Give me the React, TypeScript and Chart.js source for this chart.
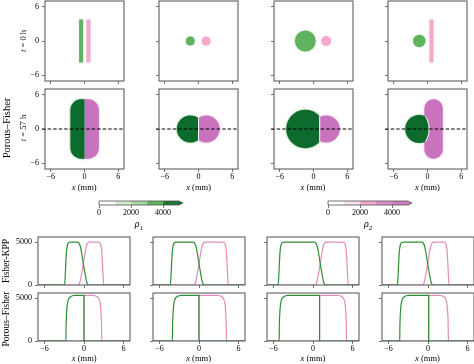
import React, { useEffect, useRef } from 'react';
import { Chart, registerables } from 'chart.js';

Chart.register(...registerables);

const SERIF = "'Liberation Serif', 'Times New Roman', Times, serif";

// ---------------- data ----------------
const scenarios = ['two strips', 'two small discs', 'large and small disc', 'disc and strip'];
const spaceTicks = [-6, 0, 6];
const spaceMin = -7;
const spaceMax = 7;
const densityTicks = [0, 5000];
const densityMax = 5586;
const colorbarTicks = [0, 2000, 4000];
const levelEdges = [0, 1000, 2000, 3000, 4000, 5000];

// t = 0 h initial populations (mm)
const initialGreen = [
  { kind: 'rect', x0: -0.95, x1: -0.25, y0: -3.75, y1: 3.75 },
  { kind: 'circle', cx: -1.45, cy: 0, r: 0.8 },
  { kind: 'circle', cx: -1.45, cy: 0, r: 1.85 },
  { kind: 'circle', cx: -1.45, cy: 0, r: 1.1 },
];
const initialPink = [
  { kind: 'rect', x0: 0.35, x1: 1.05, y0: -3.75, y1: 3.75 },
  { kind: 'circle', cx: 1.35, cy: 0, r: 0.8 },
  { kind: 'circle', cx: 2.25, cy: 0, r: 0.87 },
  { kind: 'rect', x0: 0.35, x1: 1.05, y0: -3.75, y1: 3.75 },
];
// t = 57 h Porous-Fisher populations (mm)
const finalGreen = [
  { kind: 'rrect', x0: -2.5, x1: 2.55, y0: -5.2, y1: 5.2, r: 1.9 },
  { kind: 'circle', cx: -1.45, cy: 0, r: 2.4 },
  { kind: 'circle', cx: -1.45, cy: 0, r: 3.4 },
  { kind: 'circle', cx: -1.45, cy: 0, r: 2.5 },
];
const finalPink = [
  { kind: 'rrect', x0: -2.5, x1: 2.55, y0: -5.2, y1: 5.2, r: 1.9 },
  { kind: 'circle', cx: 1.35, cy: 0, r: 2.4 },
  { kind: 'circle', cx: 2.25, cy: 0, r: 2.4 },
  { kind: 'rrect', x0: -0.55, x1: 2.7, y0: -5.2, y1: 5.2, r: 1.6 },
];
const finalInterface = [0, 0, 1.1, null];
const finalGreenFront = [null, null, null, { kind: 'circle', cx: -3.9, cy: 0, r: 4.2 }];
const finalInterfaceVisible = [false, true, true, true];

// 1D profiles along y = 0 (x in mm, density)
const kppGreenY = [0, 0, 1200, 2800, 4000, 4700, 4950, 5000, 5000, 4900, 4600, 3900, 3200, 2500, 1800, 1150, 550, 150, 0, 0];
const kppPinkY = [0, 0, 150, 550, 1150, 1800, 2500, 3200, 3900, 4600, 4900, 5000, 5000, 4950, 4700, 4000, 2800, 1200, 0, 0];
const kppGreenX = [
  [-7, -2.95, -2.85, -2.75, -2.65, -2.5, -2.3, -2.05, -1.0, -0.8, -0.6, -0.4, -0.25, -0.1, 0.05, 0.2, 0.35, 0.5, 0.65, 7],
  [-7, -4.35, -4.25, -4.15, -4.05, -3.9, -3.7, -3.45, -0.9, -0.7, -0.5, -0.3, -0.15, 0, 0.15, 0.3, 0.45, 0.6, 0.75, 7],
  [-7, -5.3, -5.2, -5.1, -5.0, -4.85, -4.65, -4.4, 0.2, 0.4, 0.6, 0.8, 0.95, 1.1, 1.25, 1.4, 1.55, 1.7, 1.85, 7],
  [-7, -4.65, -4.55, -4.45, -4.35, -4.2, -4.0, -3.75, -0.95, -0.75, -0.55, -0.35, -0.2, -0.05, 0.1, 0.25, 0.4, 0.55, 0.7, 7],
];
const kppPinkX = [
  [-7, -0.85, -0.7, -0.55, -0.4, -0.25, -0.1, 0.05, 0.2, 0.4, 0.6, 0.8, 2.1, 2.35, 2.55, 2.7, 2.8, 2.9, 3.0, 7],
  [-7, -0.75, -0.6, -0.45, -0.3, -0.15, 0, 0.15, 0.3, 0.5, 0.7, 0.9, 3.55, 3.8, 4.0, 4.15, 4.25, 4.35, 4.45, 7],
  [-7, 0.35, 0.5, 0.65, 0.8, 0.95, 1.1, 1.25, 1.4, 1.6, 1.8, 2.0, 4.45, 4.7, 4.9, 5.05, 5.15, 5.25, 5.35, 7],
  [-7, -0.8, -0.65, -0.5, -0.35, -0.2, -0.05, 0.1, 0.25, 0.45, 0.65, 0.85, 2.3, 2.55, 2.75, 2.9, 3.0, 3.1, 3.2, 7],
];
const pfGreenY = [0, 0, 1500, 3000, 4200, 4850, 5150, 5270, 5320, 5320, 0, 0];
const pfPinkY = [0, 0, 5320, 5320, 5270, 5150, 4850, 4200, 3000, 1500, 0, 0];
const pfGreenX = [
  [-7, -2.75, -2.73, -2.67, -2.55, -2.35, -2.05, -1.75, -1.35, 0, 0, 7],
  [-7, -4.05, -4.03, -3.97, -3.85, -3.65, -3.35, -3.05, -2.65, 0, 0, 7],
  [-7, -5.15, -5.13, -5.07, -4.95, -4.75, -4.45, -4.15, -3.75, 1.0, 1.0, 7],
  [-7, -4.3, -4.28, -4.22, -4.1, -3.9, -3.6, -3.3, -2.9, 0.1, 0.1, 7],
];
const pfPinkX = [
  [-7, 0, 0, 1.3, 1.7, 2.0, 2.3, 2.5, 2.62, 2.68, 2.7, 7],
  [-7, 0, 0, 2.77, 3.17, 3.47, 3.77, 3.97, 4.09, 4.15, 4.17, 7],
  [-7, 1.0, 1.0, 3.7, 4.1, 4.4, 4.7, 4.9, 5.02, 5.08, 5.1, 7],
  [-7, 0.1, 0.1, 1.7, 2.1, 2.4, 2.7, 2.9, 3.02, 3.08, 3.1, 7],
];

// ---------------- styles ----------------
const GREEN_LEVELS = ['#ffffff', '#d4ecce', '#a4d89d', '#5fb35f', '#1c7a36'];
const GREEN_EXT = '#0d6b2d';
const PINK_LEVELS = ['#ffffff', '#fbe1ee', '#f3a9cc', '#de8ec8', '#cf7cc2'];
const PINK_EXT = '#c973be';
const GREEN0 = '#5fb35f';
const PINK0 = '#f3a9cc';
const GREEN57 = '#0d6b2d';
const PINK57 = '#c973be';
const LINE_GREEN = '#2f8f36';
const LINE_PINK = '#e48cbb';
const SPINE = '#505050';

const colCenters = [84.2, 198.6, 313, 427.5];
const P2 = { w: 79, h: 79.5, rows: [0.5, 88.8] };
const P1 = { w: 92, h: 47.5, rows: [236.8, 292.8] };
const PAD = { l: 36, r: 8, t: 8, b: 16 };

const minus = (v: number) => (v < 0 ? '\u2212' + Math.abs(v) : String(v));

function tracePath(ctx: CanvasRenderingContext2D, s: any, xs: any, ys: any) {
  ctx.beginPath();
  if (s.kind === 'circle') {
    const px = xs.getPixelForValue(s.cx);
    const py = ys.getPixelForValue(s.cy);
    const pr = Math.abs(xs.getPixelForValue(s.cx + s.r) - px);
    ctx.arc(px, py, pr, 0, Math.PI * 2);
  } else {
    const l = xs.getPixelForValue(s.x0);
    const r = xs.getPixelForValue(s.x1);
    const t = ys.getPixelForValue(s.y1);
    const b = ys.getPixelForValue(s.y0);
    const rad = s.r ? Math.abs(xs.getPixelForValue(s.r) - xs.getPixelForValue(0)) : 0;
    if (rad > 0 && (ctx as any).roundRect) (ctx as any).roundRect(l, t, r - l, b - t, rad);
    else ctx.rect(l, t, r - l, b - t);
  }
}

function fieldPlugin(layers: any[]) {
  return {
    id: 'field',
    beforeDatasetsDraw(chart: any) {
      const { ctx, chartArea: a, scales } = chart;
      const xs = scales.x;
      const ys = scales.y;
      ctx.save();
      ctx.beginPath();
      ctx.rect(a.left, a.top, a.right - a.left, a.bottom - a.top);
      ctx.clip();
      for (const L of layers) {
        ctx.save();
        if (L.min != null || L.max != null) {
          const l = L.min != null ? xs.getPixelForValue(L.min) : a.left;
          const r = L.max != null ? xs.getPixelForValue(L.max) : a.right;
          ctx.beginPath();
          ctx.rect(l, a.top, r - l, a.bottom - a.top);
          ctx.clip();
        }
        if (L.cut) {
          tracePath(ctx, L.cut, xs, ys);
          ctx.clip();
        }
        tracePath(ctx, L.shape, xs, ys);
        ctx.shadowColor = L.halo;
        ctx.shadowBlur = L.blur;
        ctx.fillStyle = L.fill;
        ctx.fill();
        ctx.restore();
        if (L.edge) {
          ctx.save();
          tracePath(ctx, L.shape, xs, ys);
          ctx.clip();
          ctx.strokeStyle = '#ffffff';
          ctx.lineWidth = 1;
          if (L.cut) {
            tracePath(ctx, L.cut, xs, ys);
            ctx.stroke();
          } else if (L.max != null) {
            const px = xs.getPixelForValue(L.max);
            ctx.beginPath();
            ctx.moveTo(px, a.top);
            ctx.lineTo(px, a.bottom);
            ctx.stroke();
          }
          ctx.restore();
        }
      }
      ctx.restore();
    },
  };
}

const framePlugin = {
  id: 'frame',
  afterDraw(chart: any) {
    const { ctx, chartArea: a } = chart;
    ctx.save();
    ctx.strokeStyle = SPINE;
    ctx.lineWidth = 1;
    ctx.strokeRect(a.left, a.top, a.right - a.left, a.bottom - a.top);
    ctx.restore();
  },
};

function colorbarPlugin(ext: string) {
  return {
    id: 'cbar',
    afterDraw(chart: any) {
      const { ctx, chartArea: a } = chart;
      const tip = a.right + (a.right - a.left) * 0.05;
      const mid = (a.top + a.bottom) / 2;
      ctx.save();
      ctx.fillStyle = ext;
      ctx.beginPath();
      ctx.moveTo(a.right - 0.5, a.top);
      ctx.lineTo(tip, mid);
      ctx.lineTo(a.right - 0.5, a.bottom);
      ctx.closePath();
      ctx.fill();
      ctx.strokeStyle = SPINE;
      ctx.lineWidth = 0.8;
      ctx.beginPath();
      ctx.moveTo(a.left, a.top);
      ctx.lineTo(a.right, a.top);
      ctx.lineTo(tip, mid);
      ctx.lineTo(a.right, a.bottom);
      ctx.lineTo(a.left, a.bottom);
      ctx.closePath();
      ctx.stroke();
      ctx.restore();
    },
  };
}

function axis(opts: { min: number; max: number; ticks: number[]; labels: boolean; size: number; horizontal: boolean; padding: number }) {
  return {
    type: 'linear',
    min: opts.min,
    max: opts.max,
    afterBuildTicks: (s: any) => {
      s.ticks = opts.ticks.map((v) => ({ value: v }));
    },
    afterFit: (s: any) => {
      if (opts.horizontal) s.height = opts.size;
      else s.width = opts.size;
    },
    grid: { display: true, drawOnChartArea: false, drawTicks: true, tickLength: 3, tickWidth: 0.8, tickColor: SPINE },
    border: { display: false },
    ticks: {
      display: opts.labels,
      autoSkip: false,
      maxRotation: 0,
      padding: opts.padding,
      color: '#000',
      font: { family: SERIF, size: 8, lineHeight: 1 },
      callback: (v: any) => minus(Number(v)),
    },
  };
}

const baseOptions = {
  animation: false,
  responsive: false,
  devicePixelRatio: 1,
  events: [],
  plugins: { legend: { display: false }, tooltip: { enabled: false } },
};

function spatialConfig(col: number, row: number) {
  const final = row === 1;
  const layers = final
    ? [
        { shape: finalPink[col], min: finalInterface[col], fill: PINK57, halo: '#e6b0dc', blur: 2.5 },
        {
          shape: finalGreen[col],
          max: finalInterface[col],
          cut: finalGreenFront[col],
          edge: finalInterfaceVisible[col],
          fill: GREEN57,
          halo: '#7cc27a',
          blur: 2.5,
        },
      ]
    : [
        { shape: initialPink[col], fill: PINK0, halo: '#f8d3e5', blur: 1.5 },
        { shape: initialGreen[col], fill: GREEN0, halo: '#b5dcae', blur: 1.5 },
      ];
  return {
    type: 'scatter',
    data: {
      datasets: final
        ? [
            {
              data: [
                { x: -7.5, y: 0 },
                { x: 7, y: 0 },
              ],
              showLine: true,
              borderColor: '#000',
              borderWidth: 1,
              borderDash: [3.5, 2],
              pointRadius: 0,
              clip: false,
            },
          ]
        : [],
    },
    options: {
      ...baseOptions,
      layout: { padding: { left: 0, right: PAD.r, top: PAD.t, bottom: 0 } },
      scales: {
        x: axis({ min: spaceMin, max: spaceMax, ticks: spaceTicks, labels: final, size: PAD.b, horizontal: true, padding: 0.5 }),
        y: axis({ min: spaceMin, max: spaceMax, ticks: spaceTicks, labels: col === 0, size: PAD.l, horizontal: false, padding: 3 }),
      },
    },
    plugins: [fieldPlugin(layers), framePlugin],
  };
}

function pts(xs: number[], ys: number[]) {
  return xs.map((x, i) => ({ x, y: ys[i] }));
}

function profileConfig(col: number, row: number) {
  const kpp = row === 0;
  const g = kpp ? pts(kppGreenX[col], kppGreenY) : pts(pfGreenX[col], pfGreenY);
  const p = kpp ? pts(kppPinkX[col], kppPinkY) : pts(pfPinkX[col], pfPinkY);
  const line = { pointRadius: 0, borderWidth: 1.2, cubicInterpolationMode: 'monotone', fill: false };
  return {
    type: 'line',
    data: {
      datasets: [
        { ...line, label: 'ρ1', data: g, borderColor: LINE_GREEN },
        { ...line, label: 'ρ2', data: p, borderColor: LINE_PINK },
      ],
    },
    options: {
      ...baseOptions,
      layout: { padding: { left: 0, right: PAD.r, top: PAD.t, bottom: 0 } },
      scales: {
        x: axis({ min: spaceMin, max: spaceMax, ticks: spaceTicks, labels: !kpp, size: PAD.b, horizontal: true, padding: 0.5 }),
        y: axis({ min: 0, max: densityMax, ticks: densityTicks, labels: col === 0, size: PAD.l, horizontal: false, padding: 3 }),
      },
    },
    plugins: [framePlugin],
  };
}

const CB = { l: 12, r: 12, t: 4, b: 16, w: 79.5, h: 4.3, top: 200.6 };

function colorbarConfig(levels: string[], ext: string) {
  return {
    type: 'bar',
    data: {
      labels: [''],
      datasets: levels.map((c, i) => ({
        data: [[levelEdges[i], levelEdges[i + 1]]],
        backgroundColor: c,
        borderWidth: 0,
        barPercentage: 1,
        categoryPercentage: 1,
        grouped: false,
      })),
    },
    options: {
      ...baseOptions,
      indexAxis: 'y',
      layout: { padding: { left: CB.l, right: CB.r, top: CB.t, bottom: 0 } },
      scales: {
        x: axis({ min: 0, max: 5000, ticks: colorbarTicks, labels: true, size: CB.b, horizontal: true, padding: 1 }),
        y: { display: false },
      },
    },
    plugins: [colorbarPlugin(ext)],
  };
}

function ChartBox({ left, top, width, height, config }: any) {
  const ref = useRef<HTMLCanvasElement>(null);
  useEffect(() => {
    const chart = new Chart(ref.current as HTMLCanvasElement, config);
    return () => chart.destroy();
  }, []);
  return (
    <canvas
      ref={ref}
      width={Math.round(width)}
      height={Math.round(height)}
      style={{ position: 'absolute', left, top, width: Math.round(width), height: Math.round(height) }}
    />
  );
}

function Label({ x, y, size = 8.5, rotate = false, children }: any) {
  return (
    <div
      style={{
        position: 'absolute',
        left: x,
        top: y,
        transform: `translate(-50%, -50%)${rotate ? ' rotate(-90deg)' : ''}`,
        fontFamily: SERIF,
        fontSize: size,
        lineHeight: 1,
        whiteSpace: 'nowrap',
        color: '#000',
      }}
    >
      {children}
    </div>
  );
}

export default function App() {
  const boxes: any[] = [];
  scenarios.forEach((_, col) => {
    const cx = colCenters[col];
    [0, 1].forEach((row) => {
      const left = cx - P2.w / 2 - PAD.l;
      const top = P2.rows[row] - PAD.t;
      boxes.push({ key: `s${col}${row}`, left, top, width: P2.w + PAD.l + PAD.r, height: P2.h + PAD.t + PAD.b, config: spatialConfig(col, row) });
      const left1 = cx - P1.w / 2 - PAD.l;
      const top1 = P1.rows[row] - PAD.t;
      boxes.push({ key: `p${col}${row}`, left: left1, top: top1, width: P1.w + PAD.l + PAD.r, height: P1.h + PAD.t + PAD.b, config: profileConfig(col, row) });
    });
  });
  const cbars = [
    { key: 'cb1', left: 99.3, levels: GREEN_LEVELS, ext: GREEN_EXT },
    { key: 'cb2', left: 328.4, levels: PINK_LEVELS, ext: PINK_EXT },
  ];
  return (
    <div style={{ position: 'absolute', left: 0, top: 0, width: 474, height: 364, overflow: 'hidden', background: '#fff' }}>
      {boxes.map((b) => (
        <ChartBox key={b.key} left={b.left} top={b.top} width={b.width} height={b.height} config={b.config} />
      ))}
      {cbars.map((c) => (
        <ChartBox
          key={c.key}
          left={c.left - CB.l}
          top={CB.top - CB.t}
          width={CB.w + CB.l + CB.r}
          height={CB.h + CB.t + CB.b}
          config={colorbarConfig(c.levels, c.ext)}
        />
      ))}
      <Label x={22.5} y={40.5} rotate>
        <i>t</i> = 0 h
      </Label>
      <Label x={22.5} y={128.3} rotate>
        <i>t</i> = 57 h
      </Label>
      <Label x={7} y={128.3} size={10.5} rotate>
        Porous–Fisher
      </Label>
      <Label x={7} y={260.5} size={9.5} rotate>
        Fisher-KPP
      </Label>
      <Label x={7} y={318.5} size={9.5} rotate>
        Porous–Fisher
      </Label>
      {colCenters.map((cx, i) => (
        <Label key={`xa${i}`} x={cx} y={186.5}>
          <i>x</i> (mm)
        </Label>
      ))}
      {colCenters.map((cx, i) => (
        <Label key={`xb${i}`} x={cx} y={357.5}>
          <i>x</i> (mm)
        </Label>
      ))}
      <Label x={139} y={225} size={10}>
        <i>ρ</i>
        <sub style={{ fontSize: 7 }}>1</sub>
      </Label>
      <Label x={368.2} y={225} size={10}>
        <i>ρ</i>
        <sub style={{ fontSize: 7 }}>2</sub>
      </Label>
    </div>
  );
}
